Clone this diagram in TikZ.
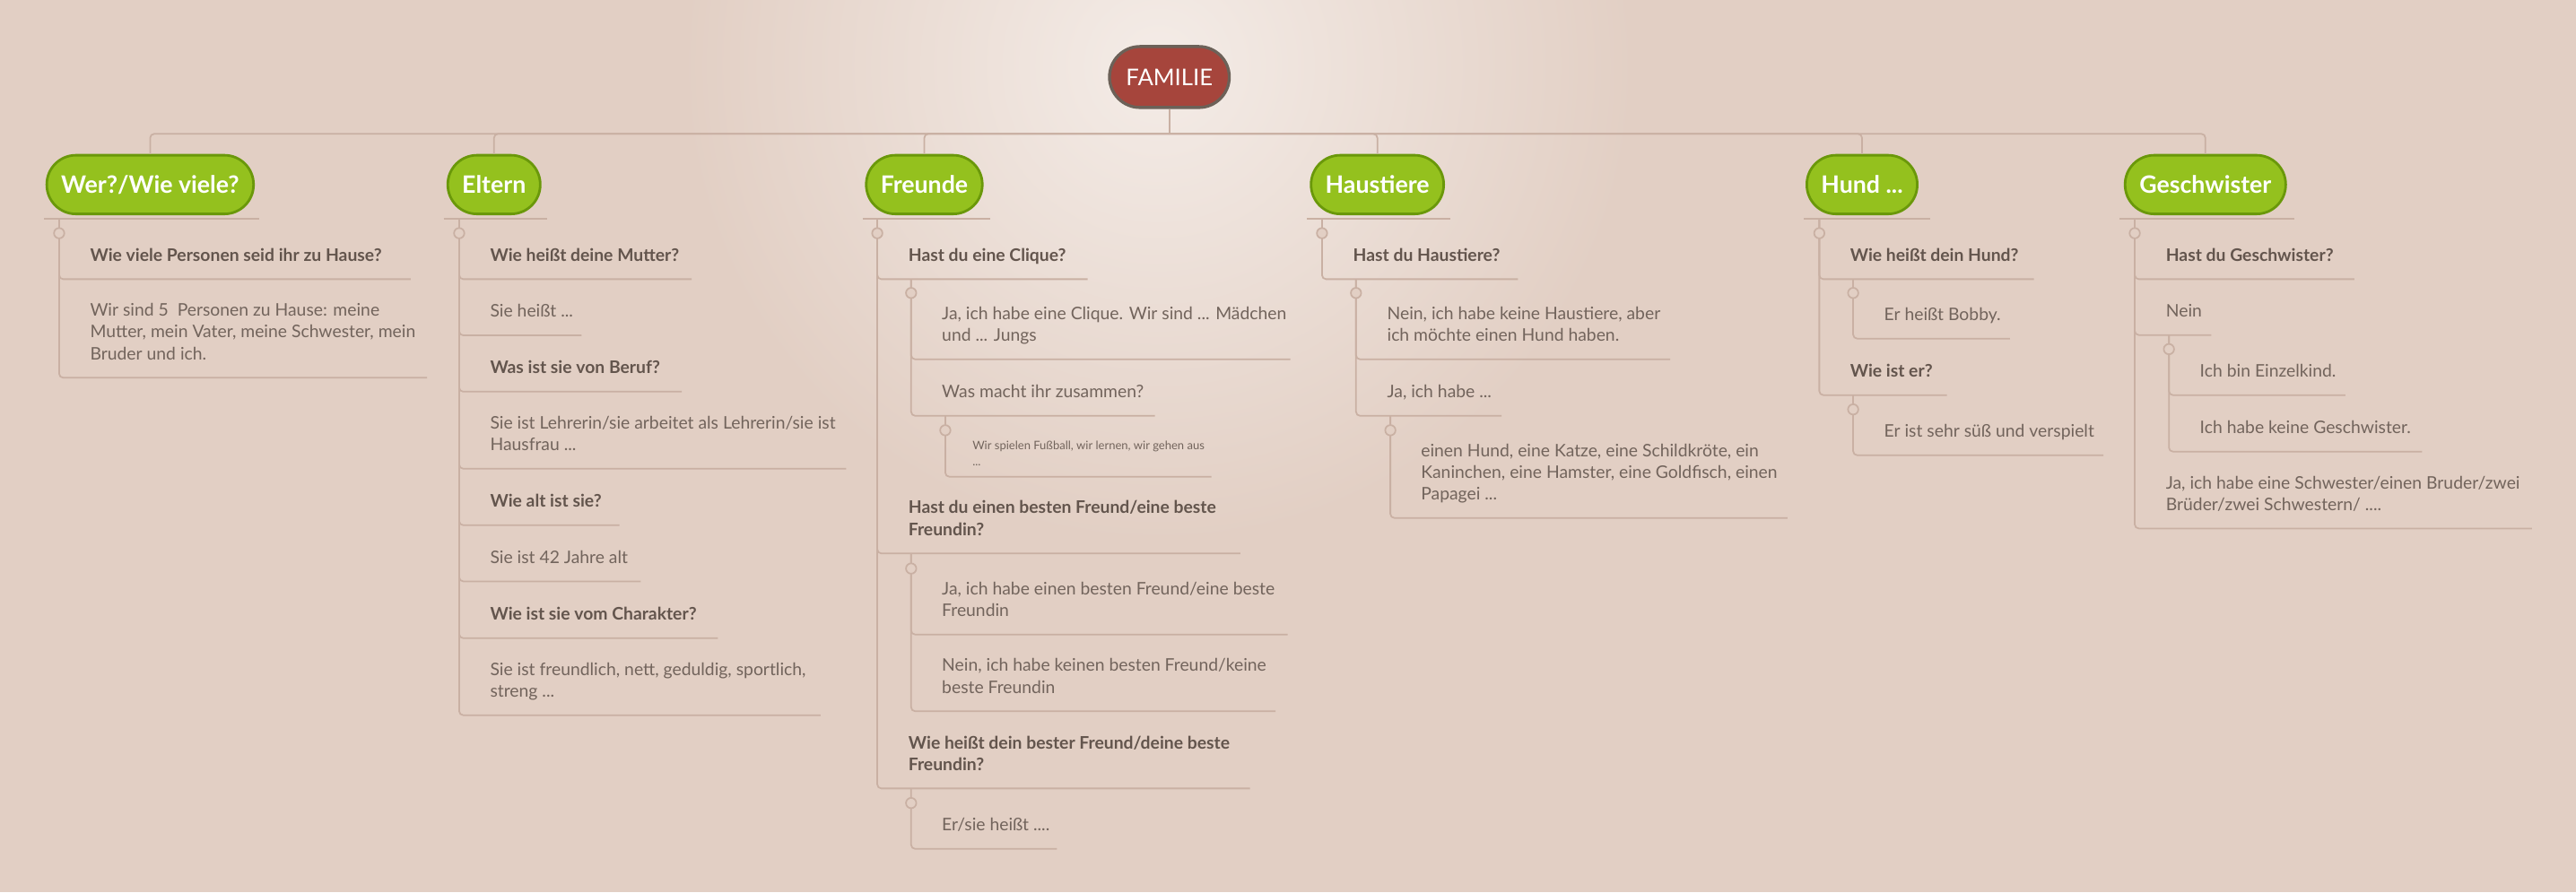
\documentclass[tikz,border=0pt]{standalone}
\usepackage{fontspec}
\setmainfont{Lato}
\usepackage{tikz}
\usetikzlibrary{positioning}
\definecolor{bgc}{RGB}{226,207,196}
\definecolor{glowc}{RGB}{244,236,231}
\definecolor{linec}{RGB}{201,176,163}
\definecolor{qtext}{RGB}{99,85,77}
\definecolor{atext}{RGB}{114,100,92}
\definecolor{topicfill}{RGB}{148,193,30}
\definecolor{topicline}{RGB}{106,152,10}
\definecolor{rootfill}{RGB}{166,69,60}
\definecolor{rootline}{RGB}{108,97,88}

\begin{document}
\begin{tikzpicture}[x=0.18316mm, y=-0.18316mm,
    root/.style={draw=rootline, fill=rootfill, line width=0.95pt, rounded corners=3.4mm, minimum height=6.8mm, inner xsep=1.85mm, text=white, font=\fontsize{7.3}{8}\selectfont},
    topic/.style={draw=topicline, fill=topicfill, line width=0.8pt, rounded corners=3.25mm, minimum height=6.55mm, inner xsep=1.6mm, text=white, font=\bfseries\fontsize{7.6}{8}\selectfont},
    ques/.style={anchor=base west, inner sep=0pt, align=left, text=qtext, font=\bfseries\fontsize{5.5}{6.87}\selectfont},
    ans/.style={ques, text=atext, font=\fontsize{5.5}{6.87}\selectfont},
    note/.style={ques, text=atext, font=\fontsize{3.7}{5.1}\selectfont},
    branch/.style={draw=linec, line width=0.5pt, rounded corners=0.45mm},
    knob/.style={circle, draw=linec, fill=bgc, line width=0.5pt, minimum size=1.15mm, inner sep=0pt}]
  \useasboundingbox (0,0) rectangle (1568,543.24);
  \fill[bgc] (0,0) rectangle (1568,543.24);
  \shade[inner color=glowc, outer color=bgc] (705,40) circle (290);

  % root and topics
  \node[root] (fam) at (711.8,46.9) {FAMILIE};
  \coordinate (bus) at (711.8,81.5);
  \node[topic] (wer) at (91.4,112.4) {Wer?/Wie viele?};
  \node[topic] (elt) at (300.7,112.4) {Eltern};
  \node[topic] (fre) at (562.6,112.4) {Freunde};
  \node[topic] (hau) at (838.4,112.4) {Haustiere};
  \node[topic] (hun) at (1133.4,112.4) {Hund ...};
  \node[topic] (ges) at (1342.4,112.4) {Geschwister};
  \draw[branch] (fam.south) -- (bus);
  \foreach \t in {wer,elt,fre,hau,hun,ges}
    \draw[branch] (bus) -| (\t.north);
  \draw[branch] (27,133.2) -- (158,133.2);
  \draw[branch] (270,133.2) -- (333,133.2);
  \draw[branch] (525,133.2) -- (603,133.2);
  \draw[branch] (795.6,133.2) -- (882.7,133.2);
  \draw[branch] (1098,133.2) -- (1174.8,133.2);
  \draw[branch] (1290.2,133.2) -- (1396.7,133.2);

  % Wer?/Wie viele?
  \coordinate (wer0) at (36,133.2);
  \node[ques] (w1) at (54.5,159) {Wie viele Personen seid ihr zu Hause?};
  \coordinate (wu1) at (250,170);
  \node[ans] (w2) at (54.5,219) {Wir sind 5~ Personen zu Hause: meine\\Mutter, mein Vater, meine Schwester, mein\\Bruder und ich.};
  \coordinate (wu2) at (260,230);
  \foreach \i in {1,2}
    \draw[branch] (wer0) |- (wu\i);
  \node[knob] (wk) at (36,142) {};

  % Eltern
  \coordinate (elt0) at (279.5,133.2);
  \node[ques] (e1) at (298,159) {Wie heißt deine Mutter?};
  \coordinate (eu1) at (421,170);
  \node[ans] (e2) at (298,193.2) {Sie heißt ...};
  \coordinate (eu2) at (354,204.2);
  \node[ques] (e3) at (298,227.5) {Was ist sie von Beruf?};
  \coordinate (eu3) at (415,238.5);
  \node[ans] (e4) at (298,274.4) {Sie ist Lehrerin/sie arbeitet als Lehrerin/sie ist\\Hausfrau ...};
  \coordinate (eu4) at (515,285.4);
  \node[ques] (e5) at (298,308.8) {Wie alt ist sie?};
  \coordinate (eu5) at (377,319.8);
  \node[ans] (e6) at (298,343) {Sie ist 42 Jahre alt};
  \coordinate (eu6) at (390,354);
  \node[ques] (e7) at (298,377.6) {Wie ist sie vom Charakter?};
  \coordinate (eu7) at (437,388.6);
  \node[ans] (e8) at (298,424.5) {Sie ist freundlich, nett, geduldig, sportlich,\\streng ...};
  \coordinate (eu8) at (499.5,435.5);
  \foreach \i in {1,...,8}
    \draw[branch] (elt0) |- (eu\i);
  \node[knob] (ek) at (279.5,142) {};

  % Freunde
  \coordinate (fre0) at (534,133.2);
  \node[ques] (f1) at (552.6,159) {Hast du eine Clique?};
  \coordinate (fu1) at (662,170);
  \coordinate (f10) at (554.6,170);
  \node[ans] (f11) at (573,207.8) {Ja, ich habe eine Clique. Wir sind ... Mädchen\\und ... Jungs};
  \coordinate (fu11) at (785.4,218.8);
  \node[ans] (f12) at (573,242.2) {Was macht ihr zusammen?};
  \coordinate (fu12) at (703,253.2);
  \coordinate (f120) at (575.4,253.2);
  \node[note] (f121) at (591.6,283.5) {Wir spielen Fußball, wir lernen, wir gehen aus\\...};
  \coordinate (fu121) at (737.4,290.3);
  \node[ques] (f2) at (552.6,326) {Hast du einen besten Freund/eine beste\\Freundin?};
  \coordinate (fu2) at (755,337);
  \coordinate (f20) at (554.6,337);
  \node[ans] (f21) at (573,375.4) {Ja, ich habe einen besten Freund/eine beste\\Freundin};
  \coordinate (fu21) at (783.8,386.4);
  \node[ans] (f22) at (573,422.1) {Nein, ich habe keinen besten Freund/keine\\beste Freundin};
  \coordinate (fu22) at (776.4,433.1);
  \node[ques] (f3) at (552.6,469.1) {Wie heißt dein bester Freund/deine beste\\Freundin?};
  \coordinate (fu3) at (760.8,480.1);
  \coordinate (f30) at (554.6,480.1);
  \node[ans] (f31) at (573,505.9) {Er/sie heißt ....};
  \coordinate (fu31) at (643.4,516.9);
  \foreach \i in {1,2,3}
    \draw[branch] (fre0) |- (fu\i);
  \draw[branch] (f10) |- (fu11);
  \draw[branch] (f10) |- (fu12);
  \draw[branch] (f120) |- (fu121);
  \draw[branch] (f20) |- (fu21);
  \draw[branch] (f20) |- (fu22);
  \draw[branch] (f30) |- (fu31);
  \node[knob] (fk) at (534,142) {};
  \node[knob] (fk1) at (554.6,178.4) {};
  \node[knob] (fk12) at (575.4,262) {};
  \node[knob] (fk2) at (554.6,346.2) {};
  \node[knob] (fk3) at (554.6,489) {};

  % Haustiere
  \coordinate (hau0) at (804.7,133.2);
  \node[ques] (h1) at (823.3,159) {Hast du Haustiere?};
  \coordinate (hu1) at (924,170);
  \coordinate (h10) at (825.4,170);
  \node[ans] (h11) at (844,207.8) {Nein, ich habe keine Haustiere, aber\\ich möchte einen Hund haben.};
  \coordinate (hu11) at (1016.6,218.8);
  \node[ans] (h12) at (844,242.2) {Ja, ich habe ...};
  \coordinate (hu12) at (914,253.2);
  \coordinate (h120) at (846.3,253.2);
  \node[ans] (h121) at (864.6,304.4) {einen Hund, eine Katze, eine Schildkröte, ein\\Kaninchen, eine Hamster, eine Goldfisch, einen\\Papagei ...};
  \coordinate (hu121) at (1088,315.4);
  \draw[branch] (hau0) |- (hu1);
  \draw[branch] (h10) |- (hu11);
  \draw[branch] (h10) |- (hu12);
  \draw[branch] (h120) |- (hu121);
  \node[knob] (hk) at (804.7,142) {};
  \node[knob] (hk1) at (825.4,178.4) {};
  \node[knob] (hk12) at (846.3,262) {};

  % Hund ...
  \coordinate (hun0) at (1107.4,133.2);
  \node[ques] (d1) at (1125.8,159) {Wie heißt dein Hund?};
  \coordinate (du1) at (1238,170);
  \coordinate (d10) at (1128,170);
  \node[ans] (d11) at (1146.5,195.2) {Er heißt Bobby.};
  \coordinate (du11) at (1223.4,206.2);
  \node[ques] (d2) at (1125.8,229.6) {Wie ist er?};
  \coordinate (du2) at (1185,240.6);
  \coordinate (d20) at (1128,240.6);
  \node[ans] (d21) at (1146.5,266.2) {Er ist sehr süß und verspielt};
  \coordinate (du21) at (1280.3,277.2);
  \draw[branch] (hun0) |- (du1);
  \draw[branch] (hun0) |- (du2);
  \draw[branch] (d10) |- (du11);
  \draw[branch] (d20) |- (du21);
  \node[knob] (dk) at (1107.4,142) {};
  \node[knob] (dk1) at (1128,178.4) {};
  \node[knob] (dk2) at (1128,249.3) {};

  % Geschwister
  \coordinate (ges0) at (1299.4,133.2);
  \node[ques] (g1) at (1318,159) {Hast du Geschwister?};
  \coordinate (gu1) at (1433,170);
  \node[ans] (g2) at (1318,193) {Nein};
  \coordinate (gu2) at (1346,204);
  \coordinate (g20) at (1320.2,204);
  \node[ans] (g21) at (1338.7,229.6) {Ich bin Einzelkind.};
  \coordinate (gu21) at (1427.6,240.6);
  \node[ans] (g22) at (1338.7,264) {Ich habe keine Geschwister.};
  \coordinate (gu22) at (1474.3,275);
  \node[ans] (g3) at (1318,310.8) {Ja, ich habe eine Schwester/einen Bruder/zwei\\Brüder/zwei Schwestern/ ....};
  \coordinate (gu3) at (1541.2,321.8);
  \foreach \i in {1,2,3}
    \draw[branch] (ges0) |- (gu\i);
  \draw[branch] (g20) |- (gu21);
  \draw[branch] (g20) |- (gu22);
  \node[knob] (gk) at (1299.4,142) {};
  \node[knob] (gk2) at (1320.2,212.6) {};
\end{tikzpicture}
\end{document}
